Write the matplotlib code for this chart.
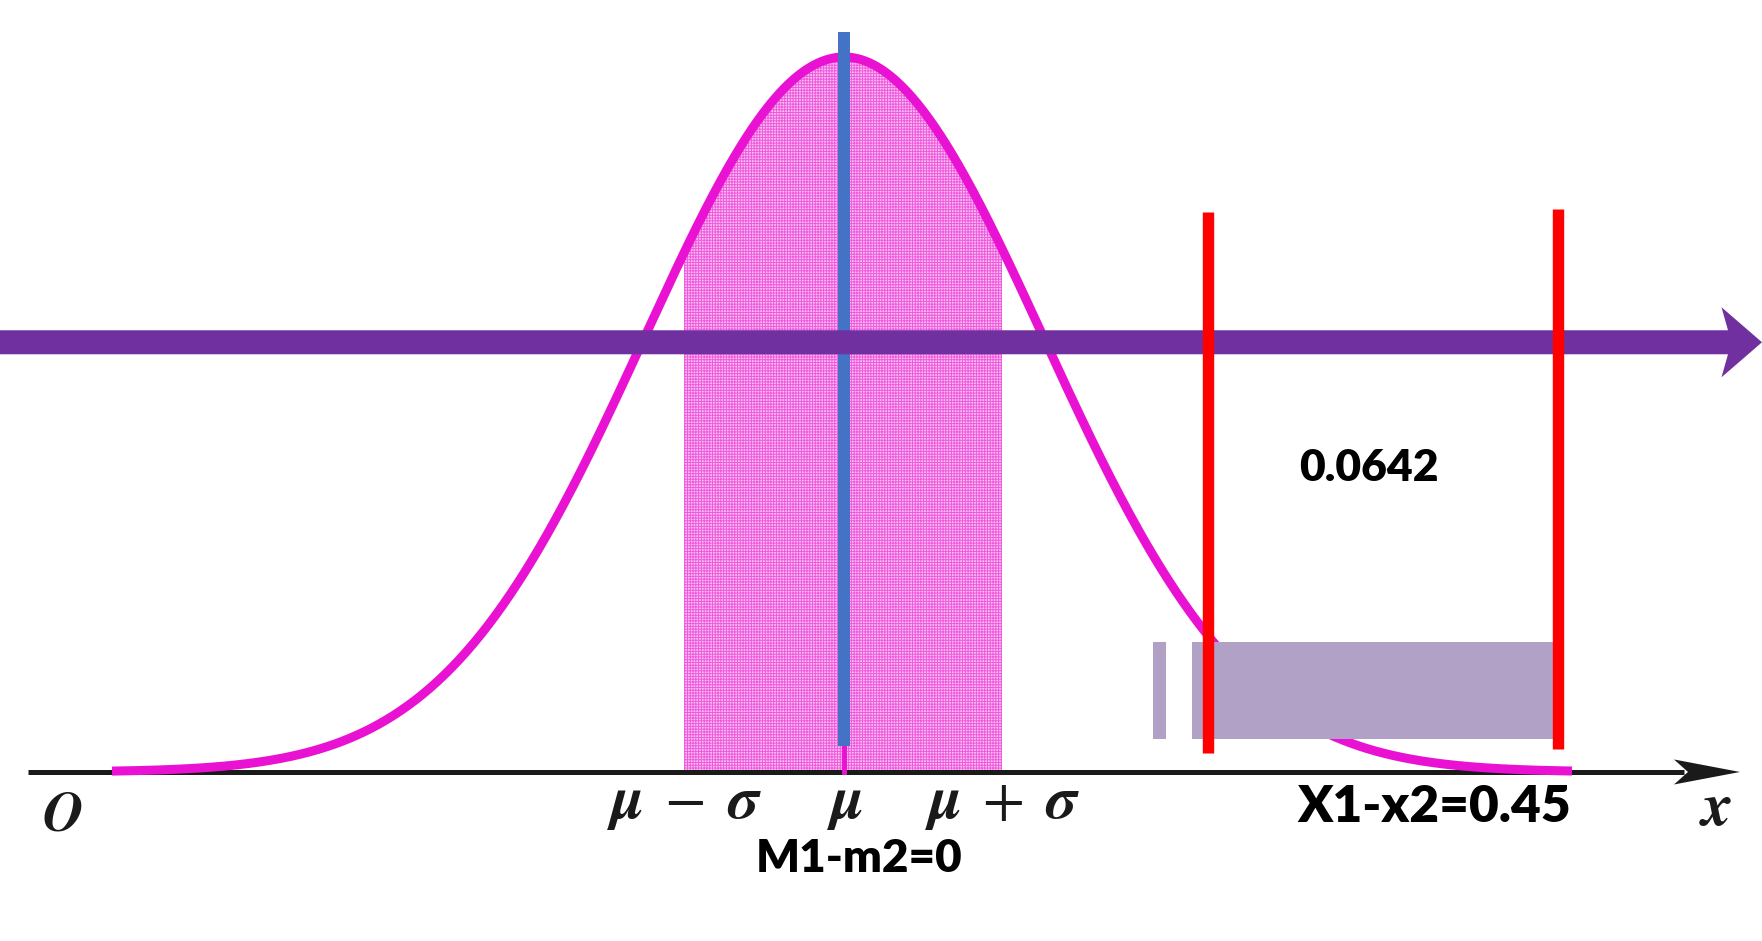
import numpy as np
import matplotlib
matplotlib.use("Agg")
import matplotlib.pyplot as plt
from matplotlib.patches import Polygon, Rectangle

plt.rcParams['mathtext.fontset'] = 'stix'
plt.rcParams['hatch.linewidth'] = 0.7

# ---- data (standardised units: x in sigma, y as fraction of peak) ----
mu = 0.0
sigma = 1.0
curve_range = [-3.66, 3.64]
shade_range = [-0.80, 0.79]
red_lines_x = [1.82, 3.57]
red_lines_top = [0.783, 0.787]
red_lines_bottom = [0.027, 0.032]
box_x = [1.738, 3.548]
box_y = [0.046, 0.182]
small_bar_x = [1.545, 1.61]
arrow_y = 0.601
tick_pos = [shade_range[0], mu, shade_range[1]]
tick_labels = [r'$\mathbfit{\mu}\;-\;\mathbfit{\sigma}$', r'$\mathbfit{\mu}$',
               r'$\mathbfit{\mu}\;+\;\mathbfit{\sigma}$']
area_label = "0.0642"
diff_x_label = "X1-x2=0.45"
diff_m_label = "M1-m2=0"

W, H = 1762, 941
fig = plt.figure(figsize=(W / 100, H / 100), dpi=100)
ax = fig.add_axes([0, 0, 1, 1])
ax.set_xlim(-4.22, 4.59)
ax.set_ylim(-0.2364, 1.0797)
ax.axis('off')

# baseline axis with arrow
ax.plot([-4.08, 4.2], [0, 0], color='#1a1a1a', lw=3.6, solid_capstyle='butt', zorder=2)
ax.add_patch(Polygon([[4.15, 0.0175], [4.48, 0.0], [4.15, -0.0175], [4.22, 0.0]],
                     closed=True, facecolor='#1a1a1a', edgecolor='none', zorder=2))

# normal curve
z = np.linspace(curve_range[0], curve_range[1], 800)
yv = np.exp(-0.5 * ((z - mu) / sigma) ** 2)

# shaded central region
zs = np.linspace(shade_range[0], shade_range[1], 300)
ys = np.exp(-0.5 * ((zs - mu) / sigma) ** 2)
ax.fill_between(zs, 0, ys, facecolor='#fbc0f2', edgecolor='#ee5ade', hatch='++++++',
                linewidth=0, zorder=1)

ax.plot(z, yv, color='#ea12d2', lw=6.5, solid_capstyle='butt', zorder=3)

# mean line (blue) with small magenta stub
ax.plot([mu, mu], [0, 0.036], color='#ea12d2', lw=3.5, zorder=3)
ax.plot([mu, mu], [0.036, 1.035], color='#4472c4', lw=8.6, solid_capstyle='butt', zorder=4)

# purple horizontal arrow
ha = 0.0168
ax.add_patch(Polygon([[-4.3, arrow_y - ha], [4.42, arrow_y - ha], [4.3875, arrow_y - 0.049],
                      [4.59, arrow_y], [4.3875, arrow_y + 0.049], [4.42, arrow_y + ha],
                      [-4.3, arrow_y + ha]], closed=True, facecolor='#7030a0',
                     edgecolor='none', zorder=5))

# lavender box and small bar
ax.add_patch(Rectangle((box_x[0], box_y[0]), box_x[1] - box_x[0], box_y[1] - box_y[0],
                       facecolor='#b2a1c7', edgecolor='none', zorder=5))
ax.add_patch(Rectangle((small_bar_x[0], box_y[0]), small_bar_x[1] - small_bar_x[0],
                       box_y[1] - box_y[0], facecolor='#b2a1c7', edgecolor='none', zorder=5))

# red vertical lines
for xr, yt, yb in zip(red_lines_x, red_lines_top, red_lines_bottom):
    ax.plot([xr, xr], [yb, yt], color='#ff0000', lw=8.2, solid_capstyle='butt', zorder=6)

# tick labels
for p, lab in zip(tick_pos, tick_labels):
    ax.text(p, -0.064, lab, ha='center', va='baseline', fontsize=44, color='#1a1a1a', zorder=7)
ax.text(-3.91, -0.082, r'$\mathbfit{O}$', ha='center', va='baseline', fontsize=40,
        color='#1a1a1a', zorder=7)
ax.text(4.36, -0.074, r'$\mathbfit{x}$', ha='center', va='baseline', fontsize=44,
        color='#1a1a1a', zorder=7)

# bold annotations
ax.text(2.6225, 0.425, area_label, ha='center', va='center', fontsize=32,
        fontweight='heavy', family='Lato', zorder=7)
ax.text(2.95, -0.049, diff_x_label, ha='center', va='center', fontsize=37,
        fontweight='heavy', family='Lato', zorder=7)
ax.text(0.075, -0.121, diff_m_label, ha='center', va='center', fontsize=33,
        fontweight='heavy', family='Lato', zorder=7)

fig.savefig('out.png', dpi=100)
